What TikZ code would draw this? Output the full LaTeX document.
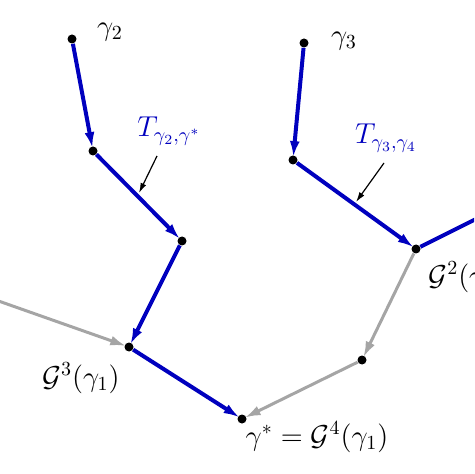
\documentclass[tikz,border=0pt]{standalone}
\usetikzlibrary{arrows.meta}
\definecolor{myblue}{RGB}{0,0,190}
\definecolor{mygray}{RGB}{165,165,165}
\begin{document}
\begin{tikzpicture}[x=0.5pt,y=-0.5pt,
  dot/.style={circle,fill=black,inner sep=0pt,minimum size=4.5pt},
  bl/.style={draw=myblue,line width=2pt,-{Latex[length=8pt,width=5pt]},shorten >=-1pt},
  gr/.style={draw=mygray,line width=1.5pt,-{Latex[length=8pt,width=5pt]},shorten >=-1pt},
  pt/.style={draw=black,line width=0.6pt,-{Latex[length=5pt,width=3pt]}},
  lab/.style={font=\fontsize{14}{16}\selectfont,inner sep=0pt}]
\useasboundingbox (0,0) rectangle (474,474);
\clip (0,0) rectangle (474,474);
\node[dot] (g2) at (72,39) {};
\node[dot] (a) at (93,151) {};
\node[dot] (b) at (182,241) {};
\node[dot] (g3p) at (129,347) {};
\node[dot] (gs) at (242,419) {};
\node[dot] (c3) at (304,43) {};
\node[dot] (d) at (293,160) {};
\node[dot] (G2) at (416,249) {};
\node[dot] (e) at (362,360) {};
\coordinate (L) at (-10,298);
\coordinate (R) at (520,197);
\draw[bl] (g2) -- (a);
\draw[bl] (a) -- (b);
\draw[bl] (b) -- (g3p);
\draw[bl] (g3p) -- (gs);
\draw[bl] (c3) -- (d);
\draw[bl] (d) -- (G2);
\draw[myblue,line width=2pt] (G2) -- (R);
\draw[gr] (L) -- (g3p);
\draw[gr] (G2) -- (e);
\draw[gr] (e) -- (gs);
\node[lab] (lg2) at (110,32) {$\gamma_2$};
\node[lab] (lg3) at (344,41) {$\gamma_3$};
\node[lab,text=myblue] (t1) at (169,131) {$T_{\gamma_2,\gamma^*}$};
\node[lab,text=myblue] (t2) at (386,138) {$T_{\gamma_3,\gamma_4}$};
\coordinate (t1s) at (157,156);
\coordinate (t1e) at (139,193);
\coordinate (t2s) at (384,163);
\coordinate (t2e) at (356,202);
\draw[pt] (t1s) -- (t1e);
\draw[pt] (t2s) -- (t2e);
\node[lab] (lG3) at (81,378) {$\mathcal{G}^3(\gamma_1)$};
\node[lab] (lgs) at (317,437) {$\gamma^*=\mathcal{G}^4(\gamma_1)$};
\node[lab,anchor=west] (lG2) at (428,277) {$\mathcal{G}^2(\gamma_1)$};
\end{tikzpicture}
\end{document}
